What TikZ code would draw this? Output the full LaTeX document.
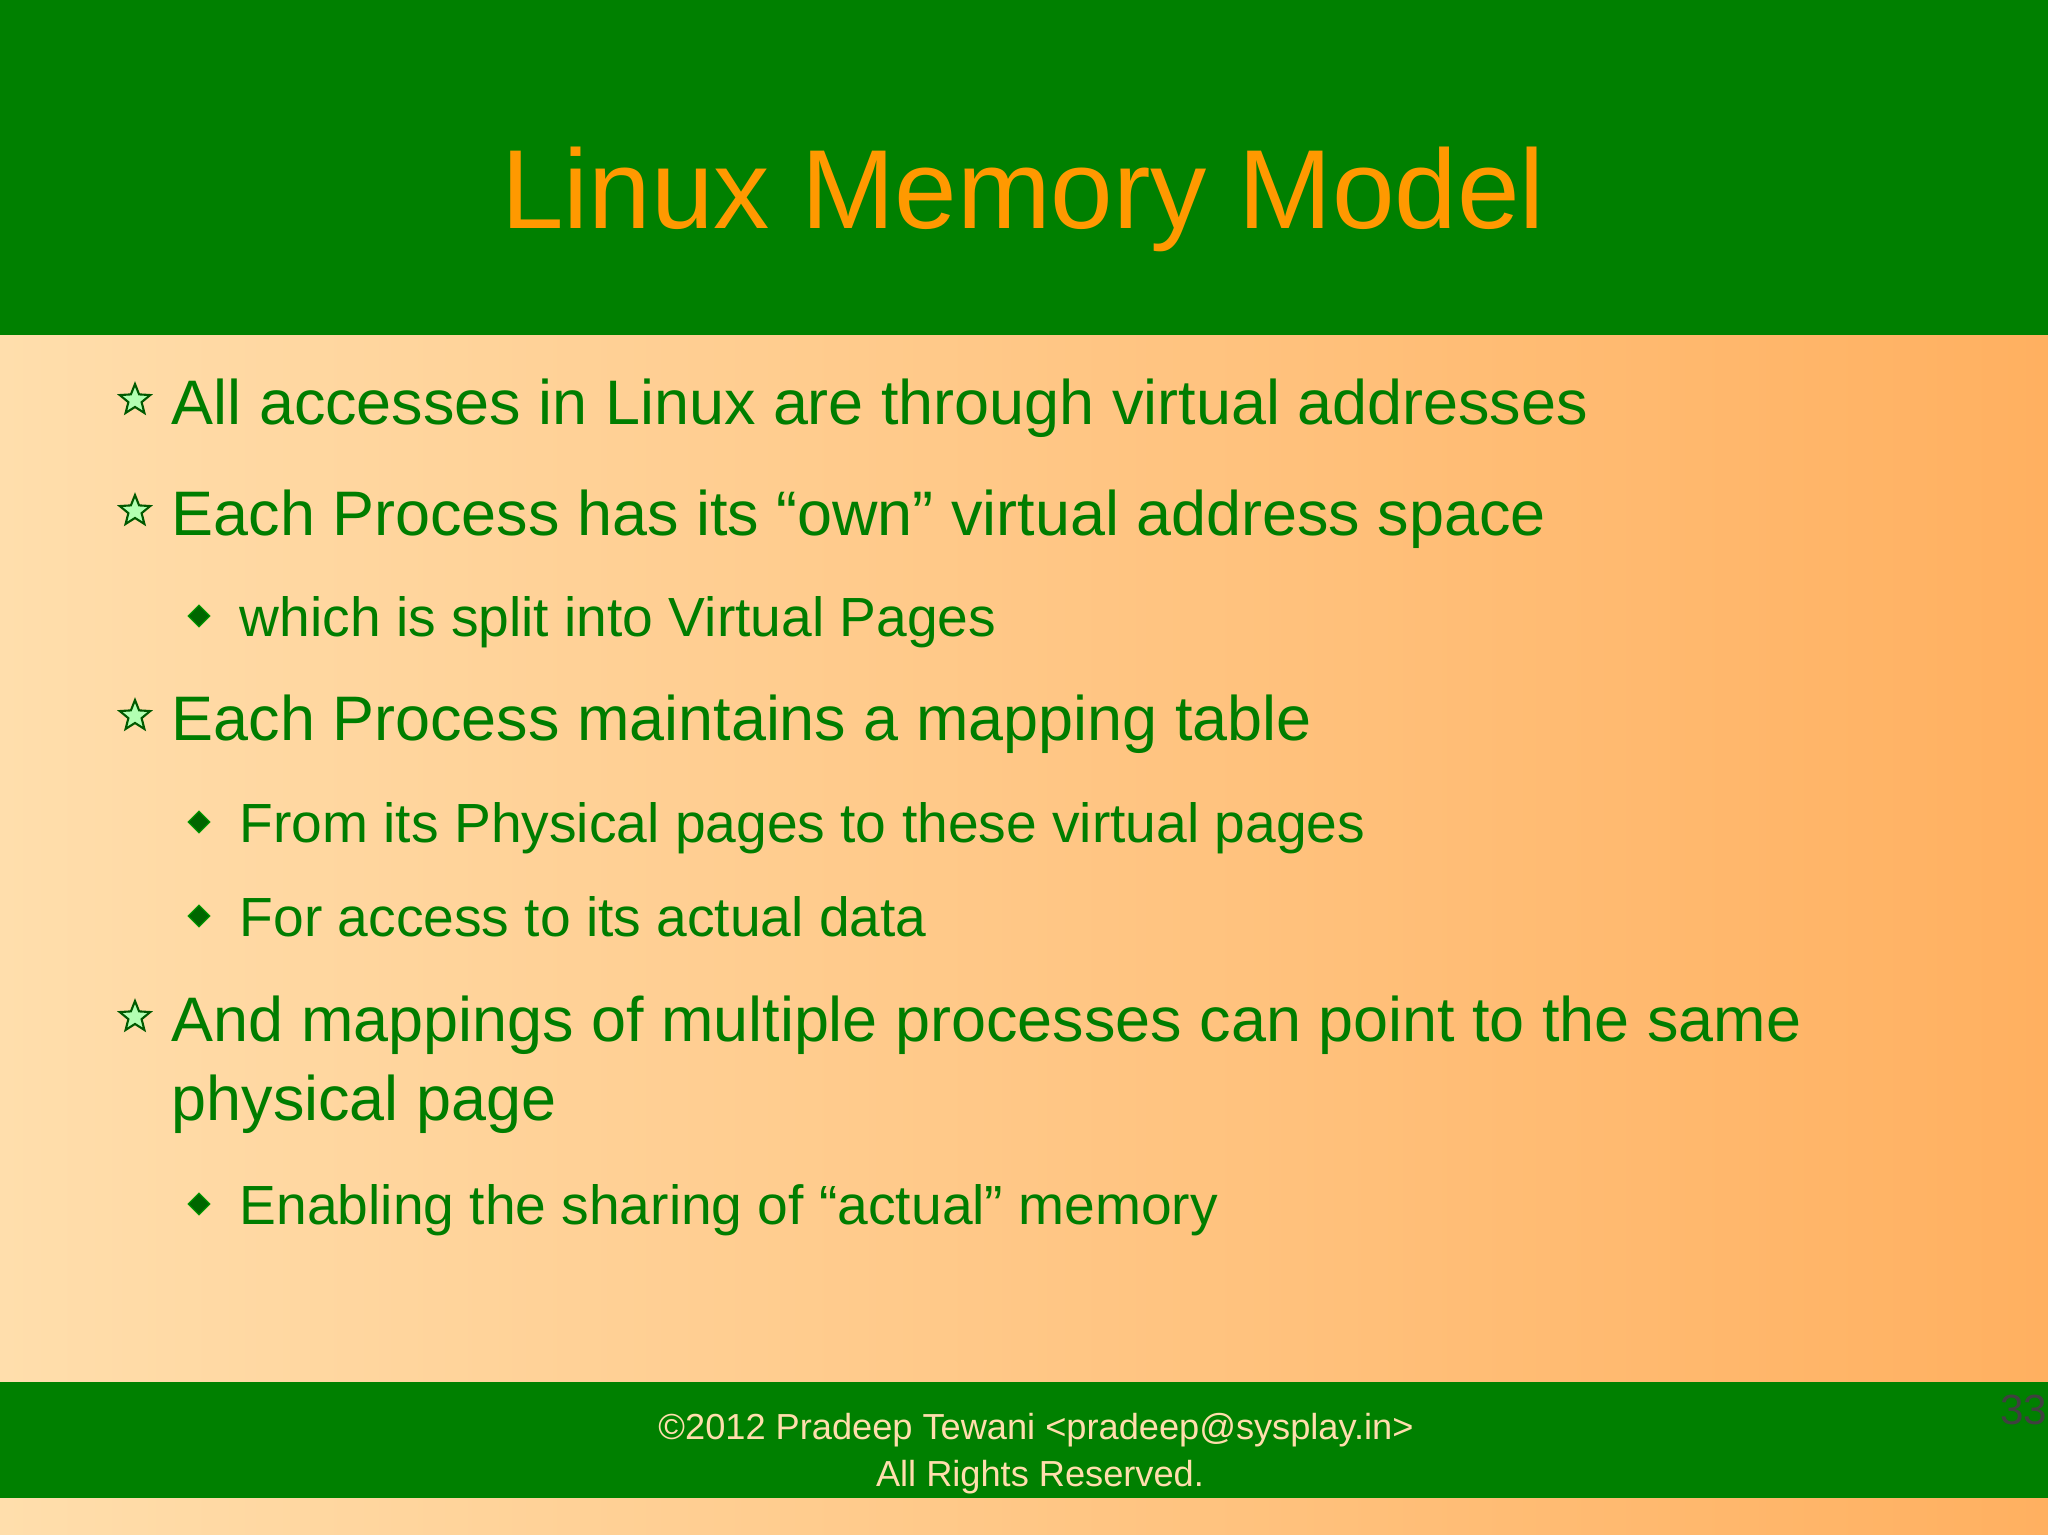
\documentclass[tikz,border=0pt]{standalone}
\usepackage{fontspec}
\setmainfont{Liberation Sans}
\usetikzlibrary{shapes.geometric}
\definecolor{band}{RGB}{0,128,0}
\definecolor{txt}{RGB}{0,125,0}
\definecolor{ttl}{RGB}{255,153,0}
\definecolor{peachL}{RGB}{255,222,172}
\definecolor{peachR}{RGB}{255,176,96}
\tikzset{
 lvl1/.style={anchor=base west,inner sep=0,text=txt,font=\fontsize{17.9}{22}\selectfont},
 lvl2/.style={anchor=base west,inner sep=0,text=txt,font=\fontsize{15.7}{19}\selectfont},
 starb/.style={star,star points=5,star point ratio=2.3,minimum size=0.32cm,inner sep=0,draw=green!35!black,fill=green!30!white,line width=0.6pt},
 diab/.style={diamond,minimum size=0.22cm,inner sep=0,fill=green!40!black,draw=green!60!black,line width=0.3pt},
 foot/.style={inner sep=0,anchor=base,text=peachL,font=\fontsize{10.3}{12}\selectfont}
}
\begin{document}
\begin{tikzpicture}[x=1cm,y=-1cm]
\useasboundingbox (0,0) rectangle (20.48,15.35);
\shade[left color=peachL,right color=peachR] (0,0) rectangle (20.48,15.35);
\fill[band] (0,0) rectangle (20.48,3.35);
\fill[band] (0,13.82) rectangle (20.48,14.98);
\node[inner sep=0,anchor=base,text=ttl,font=\fontsize{32}{38}\selectfont] (title) at (10.23,2.28) {Linux Memory Model};
\node[lvl1] (b1) at (1.71,4.24) {All accesses in Linux are through virtual addresses};
\node[lvl1] (b2) at (1.71,5.35) {Each Process has its “own” virtual address space};
\node[lvl2] (s1) at (2.39,6.36) {which is split into Virtual Pages};
\node[lvl1] (b3) at (1.71,7.40) {Each Process maintains a mapping table};
\node[lvl2] (s2) at (2.39,8.42) {From its Physical pages to these virtual pages};
\node[lvl2] (s3) at (2.39,9.36) {For access to its actual data};
\node[lvl1] (b4) at (1.71,10.41) {And mappings of multiple processes can point to the same};
\node[lvl1] (b4b) at (1.71,11.20) {physical page};
\node[lvl2] (s4) at (2.39,12.24) {Enabling the sharing of “actual” memory};
\foreach \n in {b1,b2,b3,b4}{\node[starb] at ([xshift=-0.36cm,yshift=0.24cm]\n.base west) {};}
\foreach \n in {s1,s2,s3,s4}{\node[diab] at ([xshift=-0.4cm,yshift=0.2cm]\n.base west) {};}
\node[foot] (f1) at (10.36,14.39) {©2012 Pradeep Tewani <pradeep@sysplay.in>};
\node[foot] (f2) at (10.40,14.86) {All Rights Reserved.};
\node[inner sep=0,anchor=base east,text=black!75,font=\fontsize{12}{14}\selectfont] (pg) at (20.48,14.24) {33};
\end{tikzpicture}
\end{document}
